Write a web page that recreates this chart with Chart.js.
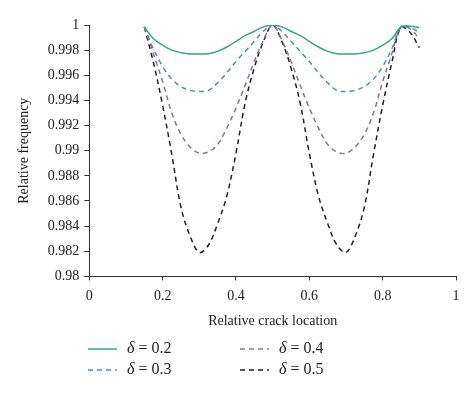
<!DOCTYPE html>
<html>
<head>
<meta charset="utf-8">
<script src="https://cdn.jsdelivr.net/npm/chart.js@4/dist/chart.umd.min.js"></script>
<style>
html,body{margin:0;padding:0;background:#fff;}
#wrap{position:relative;width:474px;height:395px;}
</style>
</head>
<body>
<div id="wrap"><canvas id="c" width="474" height="395"></canvas></div>
<script>
// Relative crack location (x values)
const crackLocation = [0.15,0.175,0.2,0.225,0.25,0.275,0.3,0.325,0.35,0.375,0.4,0.425,0.45,0.475,0.5,
  0.525,0.55,0.575,0.6,0.625,0.65,0.675,0.7,0.725,0.75,0.775,0.8,0.825,0.85,0.875,0.9];

// Relative frequency for each crack depth
const delta02 = [0.99985,0.9989,0.9984,0.9980,0.9978,0.9977,0.9977,0.99772,0.9979,0.99825,0.9987,0.99915,0.9995,0.99985,1.0,
  0.99985,0.9995,0.99915,0.9987,0.99825,0.9979,0.99772,0.9977,0.9977,0.9978,0.9980,0.9984,0.9989,0.99985,0.9999,0.9998];
const delta03 = [0.99985,0.9981,0.9967,0.9957,0.9951,0.9948,0.9947,0.9948,0.9954,0.9962,0.9971,0.9979,0.9987,0.9995,1.0,
  0.9995,0.9987,0.9979,0.9971,0.9962,0.9954,0.9948,0.9947,0.9948,0.9951,0.9957,0.9967,0.9981,0.99985,0.9998,0.9994];
const delta04 = [0.99985,0.9977,0.9955,0.9930,0.9913,0.9903,0.9898,0.9899,0.9905,0.9918,0.9934,0.9952,0.9971,0.9988,1.0,
  0.9988,0.9971,0.9952,0.9934,0.9918,0.9905,0.9899,0.9898,0.9903,0.9913,0.9930,0.9955,0.9977,0.99985,0.9997,0.9989];
const delta05 = [0.99985,0.9970,0.9936,0.9897,0.9855,0.9832,0.9819,0.9825,0.9842,0.9864,0.9898,0.9938,0.9966,0.9987,1.0,
  0.9987,0.9966,0.9938,0.9898,0.9864,0.9842,0.9825,0.9819,0.9832,0.9855,0.9897,0.9936,0.9970,0.99985,0.9994,0.9982];

const seriesLabels = ['0.2','0.3','0.4','0.5'];
const xTicks = [0,0.2,0.4,0.6,0.8,1];
const yMin = 0.98, yMax = 1, yStep = 0.002;

const colors = ['#3aa87c','#4a8fb0','#8c6fa3','#222222'];
const dashes = [[],[5,4],[5,4],[5,4]];
const allSeries = [delta02,delta03,delta04,delta05];

const serif = "'Liberation Serif', 'DejaVu Serif', serif";

const datasets = allSeries.map((arr,i)=>({
  label: '\u03b4 = ' + seriesLabels[i],
  data: arr.map((v,j)=>({x: crackLocation[j], y: v})),
  borderColor: colors[i],
  backgroundColor: colors[i],
  borderWidth: 1.5,
  borderDash: dashes[i],
  pointRadius: 0,
  fill: false,
  tension: 0.35
}));

const legendPlugin = {
  id: 'twoColLegend',
  afterDraw(chart){
    const ctx = chart.ctx;
    const pos = [[88,349],[88,370],[240,349],[240,370]];
    ctx.save();
    allSeries.forEach((s,i)=>{
      const [x,y] = pos[i];
      ctx.strokeStyle = colors[i];
      ctx.lineWidth = 1.5;
      ctx.setLineDash(dashes[i]);
      ctx.beginPath(); ctx.moveTo(x,y); ctx.lineTo(x+29,y); ctx.stroke();
      ctx.setLineDash([]);
      ctx.fillStyle = '#222';
      ctx.textBaseline = 'middle';
      ctx.font = "italic 16px " + serif;
      let tx = x + 39;
      ctx.fillText('\u03b4', tx, y);
      tx += ctx.measureText('\u03b4').width;
      ctx.font = "16px " + serif;
      ctx.fillText(' = ' + seriesLabels[i], tx, y);
    });
    ctx.restore();
  }
};

new Chart(document.getElementById('c'), {
  type: 'line',
  data: { datasets },
  options: {
    responsive: false,
    animation: false,
    layout: { padding: { top: 25, right: 18, bottom: 65, left: 16 } },
    plugins: { legend: { display: false }, tooltip: { enabled: false } },
    scales: {
      x: {
        type: 'linear', min: 0, max: 1,
        afterBuildTicks(axis){ axis.ticks = xTicks.map(v=>({value:v})); },
        ticks: { font: { family: serif, size: 14 }, color: '#222', padding: 8,
          callback: v => String(Number(v.toFixed(1))) },
        grid: { drawOnChartArea: false, drawTicks: true, tickLength: 4, color: '#333' },
        border: { color: '#333', width: 1 },
        title: { display: true, text: 'Relative crack location', font: { family: serif, size: 14 }, color: '#222', padding: { top: 0, bottom: 0 } }
      },
      y: {
        type: 'linear', min: yMin, max: yMax,
        ticks: { stepSize: yStep, font: { family: serif, size: 14 }, color: '#222', padding: 5,
          callback: v => String(Number(v.toFixed(3))) },
        grid: { drawOnChartArea: false, drawTicks: true, tickLength: 5, color: '#333' },
        border: { color: '#333', width: 1 },
        title: { display: true, text: 'Relative frequency', font: { family: serif, size: 14 }, color: '#222', padding: { top: 0, bottom: 10 } }
      }
    }
  },
  plugins: [legendPlugin]
});
</script>
</body>
</html>
